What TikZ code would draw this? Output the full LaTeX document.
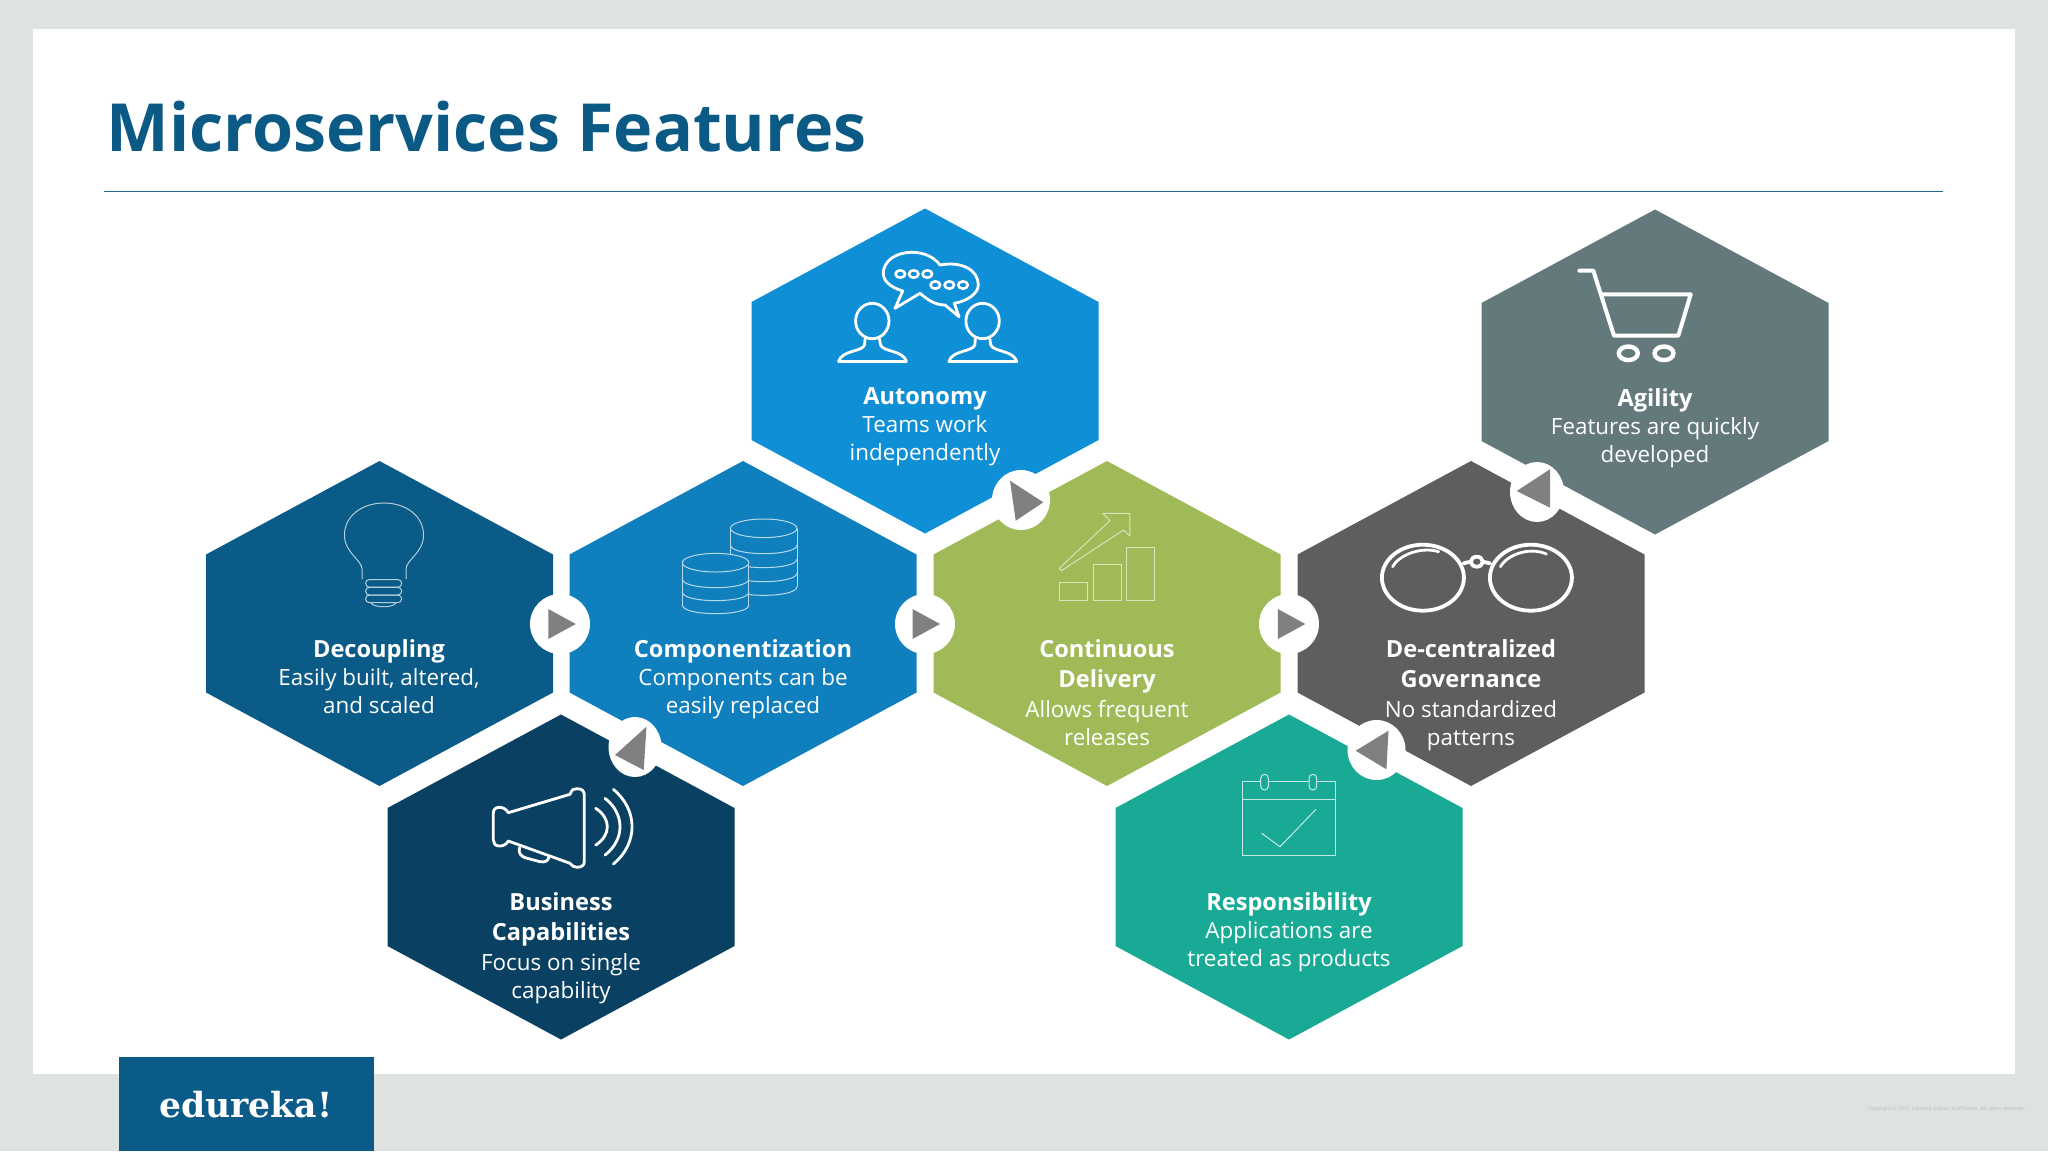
\documentclass[tikz,border=0pt]{standalone}
\usepackage{fontspec}
\setmainfont{Open Sans}
\newfontfamily\logofont{DejaVu Serif}
\usepackage{xcolor}
\usetikzlibrary{shapes.geometric}
\definecolor{cPage}{HTML}{DEE3E2}
\definecolor{cTitle}{HTML}{0B5A85}
\definecolor{cRule}{HTML}{1F6A94}
\definecolor{cDecoupling}{HTML}{0A5B87}
\definecolor{cComponent}{HTML}{0F7FBD}
\definecolor{cAutonomy}{HTML}{0F8FD6}
\definecolor{cDelivery}{HTML}{A0BA58}
\definecolor{cGovernance}{HTML}{5E5E60}
\definecolor{cAgility}{HTML}{64797C}
\definecolor{cBusiness}{HTML}{0A4163}
\definecolor{cResponsible}{HTML}{19AA95}
\definecolor{cPointer}{HTML}{808080}
\tikzset{
    Badge/.style = {fill=white,ellipse,inner sep=0pt,minimum width=#1,minimum height=30pt},
    Pointer/.style = {fill=cPointer},
    Caption/.style = {text=white,align=center,anchor=north,inner sep=0pt,
        font=\fontsize{11.2}{14}\selectfont},
    FineIcon/.style = {draw=#1,line width=0.5pt},
    HeavyIcon/.style = {draw=white,line width=#1,line cap=round,line join=round}
}
\newcommand{\Head}[1]{{\fontsize{11.8}{14}\selectfont\bfseries #1}}

\begin{document}
\begin{tikzpicture}[x=0.5pt,y=-0.5pt]
        \useasboundingbox (0,0) rectangle (2048,1151);
        \fill[cPage] (0,0) rectangle (2048,1151);
        \fill[white] (33,29) rectangle (2015,1074);
        \node[anchor=base west,inner sep=0pt,text=cTitle,font=\fontsize{33.2}{38}\selectfont\bfseries] (title) at (106,151.5) {Microservices Features};
        \draw[cRule,line width=0.75pt] (104,191.5) -- (1943,191.5);
        % hexagons
        \foreach \X/\Y/\C in {379.5/623.5/cDecoupling,743/623.5/cComponent,925/371/cAutonomy,1107/623.5/cDelivery,1471/623.5/cGovernance,1655/372/cAgility,561/877/cBusiness,1289/877/cResponsible}
            {\fill[\C] (\X,\Y-162.5) -- (\X+173.5,\Y-69) -- (\X+173.5,\Y+69) -- (\X,\Y+162.5) -- (\X-173.5,\Y+69) -- (\X-173.5,\Y-69) -- cycle;}
        % badges and pointers
        \foreach \N/\X/\Y/\W in {a/560/624/30,b/925/624/30,c/1289/624/30,d/1021/500/29,e/1537/492/27,f/635/747/26.5,g/1376.5/750/29}
            {\node[Badge=\W pt] (badge\N) at (\X,\Y) {};}
        \foreach \X in {548.3,912.5,1277.8}
            {\fill[Pointer] (\X,609) -- (\X,639) -- (\X+27.5,624) -- cycle;}
        \fill[Pointer] (1010,480.7) -- (1015.7,520.7) -- (1043.3,502.3) -- cycle;
        \fill[Pointer] (1516.7,491) -- (1550,469.3) -- (1550,507.7) -- cycle;
        \fill[Pointer] (615,755) -- (646.5,726.7) -- (643.7,770) -- cycle;
        \fill[Pointer] (1355.7,750.7) -- (1388.5,730.7) -- (1386.4,769.3) -- cycle;
        % people and speech
        \foreach \X in {0,110.3}
            {\begin{scope}[shift={(\X,0)}]
             \draw[HeavyIcon=1.4pt] (872.3,321) ellipse (16.7 and 17.7);
             \draw[HeavyIcon=1.4pt] (865,339) -- (864.5,345) .. controls (862,352) and (842,350) .. (838.5,361.5) -- (906.5,361.5) .. controls (903,350) and (883,352) .. (880.5,345) -- (879.5,339);
             \end{scope}}
        \draw[HeavyIcon=1.4pt] (895,308.3) -- (902.7,291) .. controls (890,287) and (883.3,281) .. (883.3,273.3) .. controls (883.3,261) and (896,252.3) .. (911.7,252.3) .. controls (924,252.3) and (934,257) .. (940,265) .. controls (962,261) and (978.3,270) .. (978.3,285) .. controls (978.3,293) and (968,301) .. (954.3,303.3) -- (959,316.7) -- (945,305) .. controls (935,305) and (928,300) .. (920,293.3) -- cycle;
        \foreach \X/\Y in {900.3/274,913.7/274,927.3/274,935.3/285,949.3/285,963/285}
            {\draw[HeavyIcon=1.3pt] (\X,\Y) ellipse (4.8 and 3.7);}
        % bulb
        \draw[FineIcon=white!70!cDecoupling] (362,579) -- (362,569) .. controls (362,560) and (344.5,553) .. (344.5,535) .. controls (344.5,516) and (362,503) .. (384,503) .. controls (406,503) and (423.5,516) .. (423.5,535) .. controls (423.5,553) and (406,560) .. (406,569) -- (406,579);
        \foreach \Y in {579.5,587.3,595}
            {\draw[FineIcon=white!70!cDecoupling,rounded corners=1.9pt] (365.6,\Y) rectangle (401.7,\Y+7.7);}
        \draw[FineIcon=white!70!cDecoupling] (371,603) .. controls (374,608) and (393,608) .. (396,603);
        % stacks of disks
        \draw[FineIcon=white!70!cComponent] (730.4,528.3) -- (730.4,560) (797,528.3) -- (797,586.7);
        \draw[FineIcon=white!70!cComponent] (763.7,528.3) ellipse (33.3 and 9.3);
        \foreach \Y in {545,559,573,586.7}
            {\draw[FineIcon=white!70!cComponent] (730.4,\Y) .. controls (730.4,\Y+11.5) and (797,\Y+11.5) .. (797,\Y);}
        \fill[cComponent] (682.3,562.7) -- (682.3,605) .. controls (682.3,617) and (748.9,617) .. (748.9,605) -- (748.9,562.7) -- cycle;
        \draw[FineIcon=white!70!cComponent,fill=cComponent] (715.6,562.7) ellipse (33.3 and 9.3);
        \draw[FineIcon=white!70!cComponent] (682.3,562.7) -- (682.3,605) (748.9,562.7) -- (748.9,605);
        \foreach \Y in {579,592,605}
            {\draw[FineIcon=white!70!cComponent] (682.3,\Y) .. controls (682.3,\Y+11.5) and (748.9,\Y+11.5) .. (748.9,\Y);}
        % bars and rising arrow
        \foreach \X/\Y in {1059.3/582.7,1093.3/564.7,1126.9/547}
            {\draw[FineIcon=white!60!cDelivery] (\X,\Y) rectangle (\X+27.7,600.7);}
        \draw[FineIcon=white!60!cDelivery] (1129.8,513.3) -- (1129.8,535.7) -- (1123.5,530) -- (1061.4,570.7) -- (1059.3,568.3) -- (1109.9,520.7) -- (1102.8,513.3) -- cycle;
        % glasses
        \foreach \X in {1422.9,1530.9}
            {\draw[HeavyIcon=1.9pt] (\X,577.7) ellipse (41 and 33);}
        \draw[HeavyIcon=1.9pt] (1476.8,561.7) ellipse (6 and 5);
        \draw[HeavyIcon=1.9pt] (1463.5,563.3) -- (1470.8,561.7) (1482.8,561.7) -- (1490,563.3);
        \draw[HeavyIcon=1.4pt] (1392.6,566.7) .. controls (1398,556) and (1420,546) .. (1438.6,551.7);
        \draw[HeavyIcon=1.4pt] (1500.4,566.7) .. controls (1506,556) and (1528,546) .. (1546.4,554);
        % cart
        \draw[HeavyIcon=2pt] (1579.3,270.7) -- (1593.3,270.7) -- (1614,335.7) -- (1678.3,335.7) -- (1690.7,294.3) -- (1601.7,294.3);
        \foreach \X in {1628.3,1664}
            {\draw[HeavyIcon=2.2pt] (\X,353.3) ellipse (9.5 and 6.8);}
        % megaphone
        \draw[HeavyIcon=1.4pt] (508.3,812.7) -- (570,794.3) .. controls (572,789) and (574,788.7) .. (577,788.7) .. controls (582,788.7) and (584.3,791) .. (584.3,795) -- (584.3,861.7) .. controls (584.3,865) and (582,867.3) .. (577,867.3) .. controls (574,867.3) and (572,866) .. (570,863.3) -- (508.3,841) .. controls (506,845) and (503,846) .. (499.3,846) .. controls (495,846) and (493.3,843) .. (493.3,840) -- (493.3,813.3) .. controls (493.3,810) and (495,807.3) .. (499.3,807.3) .. controls (503,807.3) and (506,809) .. (508.3,812.7);
        \draw[HeavyIcon=1.4pt] (519.5,847.5) .. controls (518,853) and (521,856) .. (525,857.7) -- (540,861.7) .. controls (545,862.5) and (548.5,861) .. (549,856.7);
        \foreach \X/\B/\T in {595.7/611.2/18.4,605/625/28.4,613.3/638.3/37.4}
            {\draw[HeavyIcon=1.4pt] (\X,826.7-\T) .. controls (\B,826.7-\T*0.45) and (\B,826.7+\T*0.45) .. (\X,826.7+\T);}
        % calendar
        \draw[FineIcon=white!75!cResponsible] (1242.7,781.7) rectangle (1335,855.7);
        \draw[FineIcon=white!75!cResponsible] (1242.7,799.3) -- (1335,799.3);
        \foreach \X in {1260.7,1309}
            {\draw[FineIcon=white!75!cResponsible,fill=cResponsible,rounded corners=1.9pt] (\X,774.3) rectangle (\X+7.7,790);}
        \draw[FineIcon=white!75!cResponsible] (1261.7,833.3) -- (1280,846.7) -- (1316,809.3);
        % captions
        \node[Caption] (decoupling) at (379,639) {\Head{Decoupling}\\[0.3pt]Easily built, altered,\\and scaled};
        \node[Caption] (component) at (743,639) {\Head{Componentization}\\[0.3pt]Components can be\\easily replaced};
        \node[Caption] (autonomy) at (925,387) {\Head{Autonomy}\\[0.3pt]Teams work\\independently};
        \node[Caption] (delivery) at (1107,639.5) {\Head{Continuous}\\[1pt]\Head{Delivery}\\[1pt]Allows frequent\\releases};
        \node[Caption] (governance) at (1471,639.5) {\Head{De-centralized}\\[1pt]\Head{Governance}\\[1pt]No standardized\\patterns};
        \node[Caption] (agility) at (1655,388) {\Head{Agility}\\[0.3pt]Features are quickly\\developed};
        \node[Caption] (business) at (561,892) {\Head{Business}\\[1pt]\Head{Capabilities}\\[1pt]Focus on single\\capability};
        \node[Caption] (responsible) at (1289,892) {\Head{Responsibility}\\[0.3pt]Applications are\\treated as products};
        % logo and small print
        \fill[cDecoupling] (118.7,1057) rectangle (373.7,1151);
        \node[anchor=base,inner sep=0pt,text=white,font=\logofont\fontsize{17.3}{20}\selectfont\bfseries] (logo) at (246,1117) {edureka!};
        \node[anchor=base east,inner sep=0pt,text=black!28,font=\fontsize{2.55}{3}\selectfont] (notice) at (2025,1110) {Copyright © 2017, edureka and/or its affiliates. All rights reserved.};
\end{tikzpicture}
\end{document}
